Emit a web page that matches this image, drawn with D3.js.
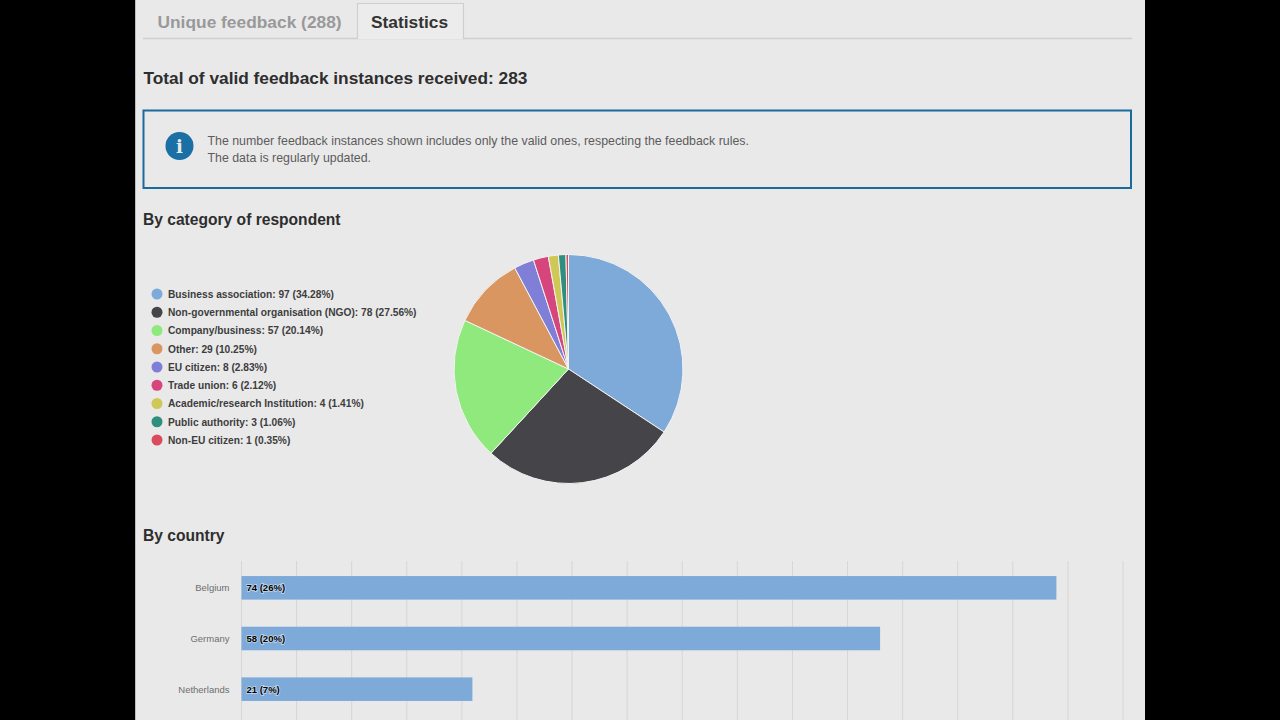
<!DOCTYPE html>
<html>
<head>
<meta charset="utf-8">
<script src="https://cdn.jsdelivr.net/npm/d3@7/dist/d3.min.js"></script>
<style>
  html, body { margin: 0; padding: 0; background: #000; overflow: hidden; }
  svg { display: block; font-family: "Liberation Sans", Arial, sans-serif; }
</style>
</head>
<body>
<svg id="chart" width="1280" height="720"></svg>
<script>
// Pie data
var categories = ['Business association', 'Non-governmental organisation (NGO)', 'Company/business', 'Other',
  'EU citizen', 'Trade union', 'Academic/research Institution', 'Public authority', 'Non-EU citizen'];
var categoryCounts = [97, 78, 57, 29, 8, 6, 4, 3, 1];
var categoryShares = ['34.28', '27.56', '20.14', '10.25', '2.83', '2.12', '1.41', '1.06', '0.35'];
var categoryColors = ['#7daad9', '#444449', '#90e97c', '#da9660', '#7f7fd8', '#d6457c', '#cfc857', '#2f8f7e', '#da4a5c'];

// Bar data
var countries = ['Belgium', 'Germany', 'Netherlands'];
var countryCounts = [74, 58, 21];
var countryShares = ['26', '20', '7'];
var countryTicks = d3.range(0, 85, 5);

var svg = d3.select('#chart');

// Page panel
svg.append('rect').attr('x', 135).attr('y', 0).attr('width', 1010).attr('height', 720).attr('fill', '#e9e9ea');
svg.append('line').attr('x1', 135.5).attr('x2', 135.5).attr('y1', 0).attr('y2', 720).attr('stroke', '#bdbdbd');

// Tabs
svg.append('line').attr('x1', 143).attr('x2', 1132).attr('y1', 38.5).attr('y2', 38.5)
  .attr('stroke', '#cfcfcf').attr('stroke-width', 1.5);
svg.append('path').attr('d', 'M357.5,39V3.5H463.5V39').attr('fill', '#ececec')
  .attr('stroke', '#cfcfcf').attr('stroke-width', 1.2);
svg.append('text').attr('x', 157.5).attr('y', 28).attr('font-size', 17.35).attr('font-weight', 700)
  .attr('fill', '#999').text('Unique feedback (288)');
svg.append('text').attr('x', 371).attr('y', 28).attr('font-size', 17.35).attr('font-weight', 700)
  .attr('fill', '#333').text('Statistics');

svg.append('text').attr('x', 143.5).attr('y', 84).attr('font-size', 17.3).attr('font-weight', 700)
  .attr('fill', '#2e2e2e').text('Total of valid feedback instances received: 283');

// Info box
svg.append('rect').attr('x', 143.5).attr('y', 110.5).attr('width', 987.5).attr('height', 77.5)
  .attr('fill', 'none').attr('stroke', '#1a6a9c').attr('stroke-width', 2);
svg.append('circle').attr('cx', 179.5).attr('cy', 146).attr('r', 14).attr('fill', '#1a6fa5');
svg.append('text').attr('x', 179.5).attr('y', 152.5).attr('text-anchor', 'middle')
  .attr('font-family', 'DejaVu Serif').attr('font-weight', 700).attr('font-size', 18)
  .attr('fill', '#e9e9ea').text('i');
svg.append('text').attr('x', 207.5).attr('y', 145).attr('font-size', 12.36).attr('fill', '#5c5c5c')
  .text('The number feedback instances shown includes only the valid ones, respecting the feedback rules.');
svg.append('text').attr('x', 207.5).attr('y', 162).attr('font-size', 12.36).attr('fill', '#5c5c5c')
  .text('The data is regularly updated.');

// Section headings
svg.append('text').attr('x', 143).attr('y', 225).attr('font-size', 15.6).attr('font-weight', 700)
  .attr('fill', '#2e2e2e').text('By category of respondent');
svg.append('text').attr('x', 143).attr('y', 541).attr('font-size', 15.6).attr('font-weight', 700)
  .attr('fill', '#2e2e2e').text('By country');

// Legend
var legendY = d3.scalePoint().domain(categories).range([294, 440]);
var legend = svg.append('g').selectAll('g').data(categories).join('g')
  .attr('transform', function(d) { return 'translate(157,' + legendY(d) + ')'; });
legend.append('circle').attr('r', 5.5).attr('fill', function(d, i) { return categoryColors[i]; });
legend.append('text').attr('x', 11).attr('y', 3.8).attr('font-size', 10.2).attr('font-weight', 700)
  .attr('fill', '#3d3d3d')
  .text(function(d, i) { return d + ': ' + categoryCounts[i] + ' (' + categoryShares[i] + '%)'; });

// Pie, drawn clockwise from twelve o'clock in data order
var pie = d3.pie().sort(null);
var arc = d3.arc().innerRadius(0).outerRadius(114.5);
svg.append('g').attr('transform', 'translate(568.5,369)')
  .selectAll('path').data(pie(categoryCounts)).join('path')
  .attr('d', arc)
  .attr('fill', function(d, i) { return categoryColors[i]; })
  .attr('stroke', '#f4f4f4').attr('stroke-width', 1).attr('stroke-linejoin', 'round');

// Bars: the chart runs on below the bottom of the picture
var x = d3.scaleLinear().domain([0, 80]).range([241, 1122.5]);
var y = d3.scaleBand().domain(countries).range([562.5, 714.5]).paddingInner(0.535).paddingOuter(0.2675);

var grid = svg.append('g').attr('transform', 'translate(0,561)')
  .call(d3.axisBottom(x).tickValues(countryTicks).tickSize(159).tickFormat(''));
grid.select('.domain').remove();
grid.selectAll('line').attr('stroke', '#d6d6d6');

svg.selectAll('rect.bar').data(countries).join('rect')
  .attr('class', 'bar')
  .attr('x', x(0) + 0.5)
  .attr('y', function(d) { return y(d); })
  .attr('width', function(d, i) { return x(countryCounts[i]) - x(0) - 0.5; })
  .attr('height', y.bandwidth())
  .attr('fill', '#7daad9');

var yAxis = svg.append('g').attr('transform', 'translate(241.5,0.5)')
  .call(d3.axisLeft(y).tickSize(0).tickPadding(12));
yAxis.select('.domain').remove();
yAxis.selectAll('text').attr('font-family', '"Liberation Sans", Arial, sans-serif')
  .attr('font-size', 9.5).attr('fill', '#6e6e6e');

svg.selectAll('text.value').data(countries).join('text')
  .attr('class', 'value')
  .attr('x', x(0) + 5.5)
  .attr('y', function(d) { return y(d) + y.bandwidth() / 2 + 3.5; })
  .attr('font-size', 9.5).attr('font-weight', 700).attr('fill', '#000')
  .attr('stroke', '#fff').attr('stroke-opacity', 0.55).attr('stroke-width', 1.5).attr('paint-order', 'stroke')
  .text(function(d, i) { return countryCounts[i] + ' (' + countryShares[i] + '%)'; });
</script>
</body>
</html>
